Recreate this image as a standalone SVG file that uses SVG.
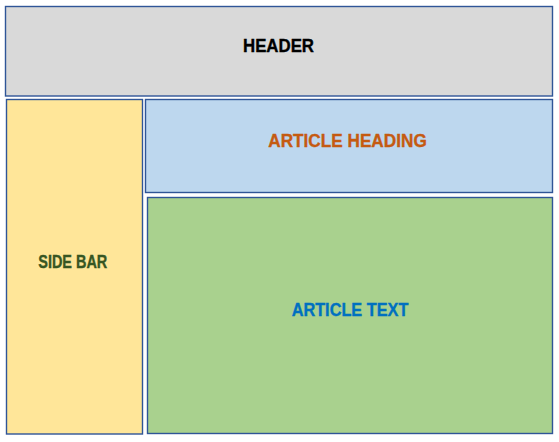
<svg xmlns="http://www.w3.org/2000/svg" width="559" height="442" viewBox="0 0 559 442">
<style>
.box{stroke:#2F5597;stroke-width:1.4}
.lbl{font-family:"Liberation Sans",Arial,sans-serif;font-weight:bold;font-size:17.5px;text-anchor:middle;stroke-width:0.35}
</style>
<rect width="559" height="442" fill="#FFFFFF"/>
<g id="header">
<rect class="box" x="5.5" y="6.5" width="547" height="89.5" fill="#D9D9D9"/>
<text class="lbl" x="278.5" y="51.5" fill="#000000" stroke="#000000" textLength="71" lengthAdjust="spacingAndGlyphs">HEADER</text>
</g>
<g id="sidebar">
<rect class="box" x="6.5" y="99.5" width="136" height="334.5" fill="#FFE699"/>
<text class="lbl" x="72.8" y="267.7" fill="#375623" stroke="#375623" textLength="69" lengthAdjust="spacingAndGlyphs">SIDE BAR</text>
</g>
<g id="article-heading">
<rect class="box" x="145.5" y="99.5" width="407" height="93" fill="#BDD7EE"/>
<text class="lbl" x="347.5" y="146.7" fill="#C55A11" stroke="#C55A11" textLength="158.5" lengthAdjust="spacingAndGlyphs">ARTICLE HEADING</text>
</g>
<g id="article-text">
<rect class="box" x="147.5" y="197.5" width="405" height="236" fill="#A9D18E"/>
<text class="lbl" x="350" y="315.7" fill="#0070C0" stroke="#0070C0" textLength="116.7" lengthAdjust="spacingAndGlyphs">ARTICLE TEXT</text>
</g>
<g id="connectors"></g>
</svg>
